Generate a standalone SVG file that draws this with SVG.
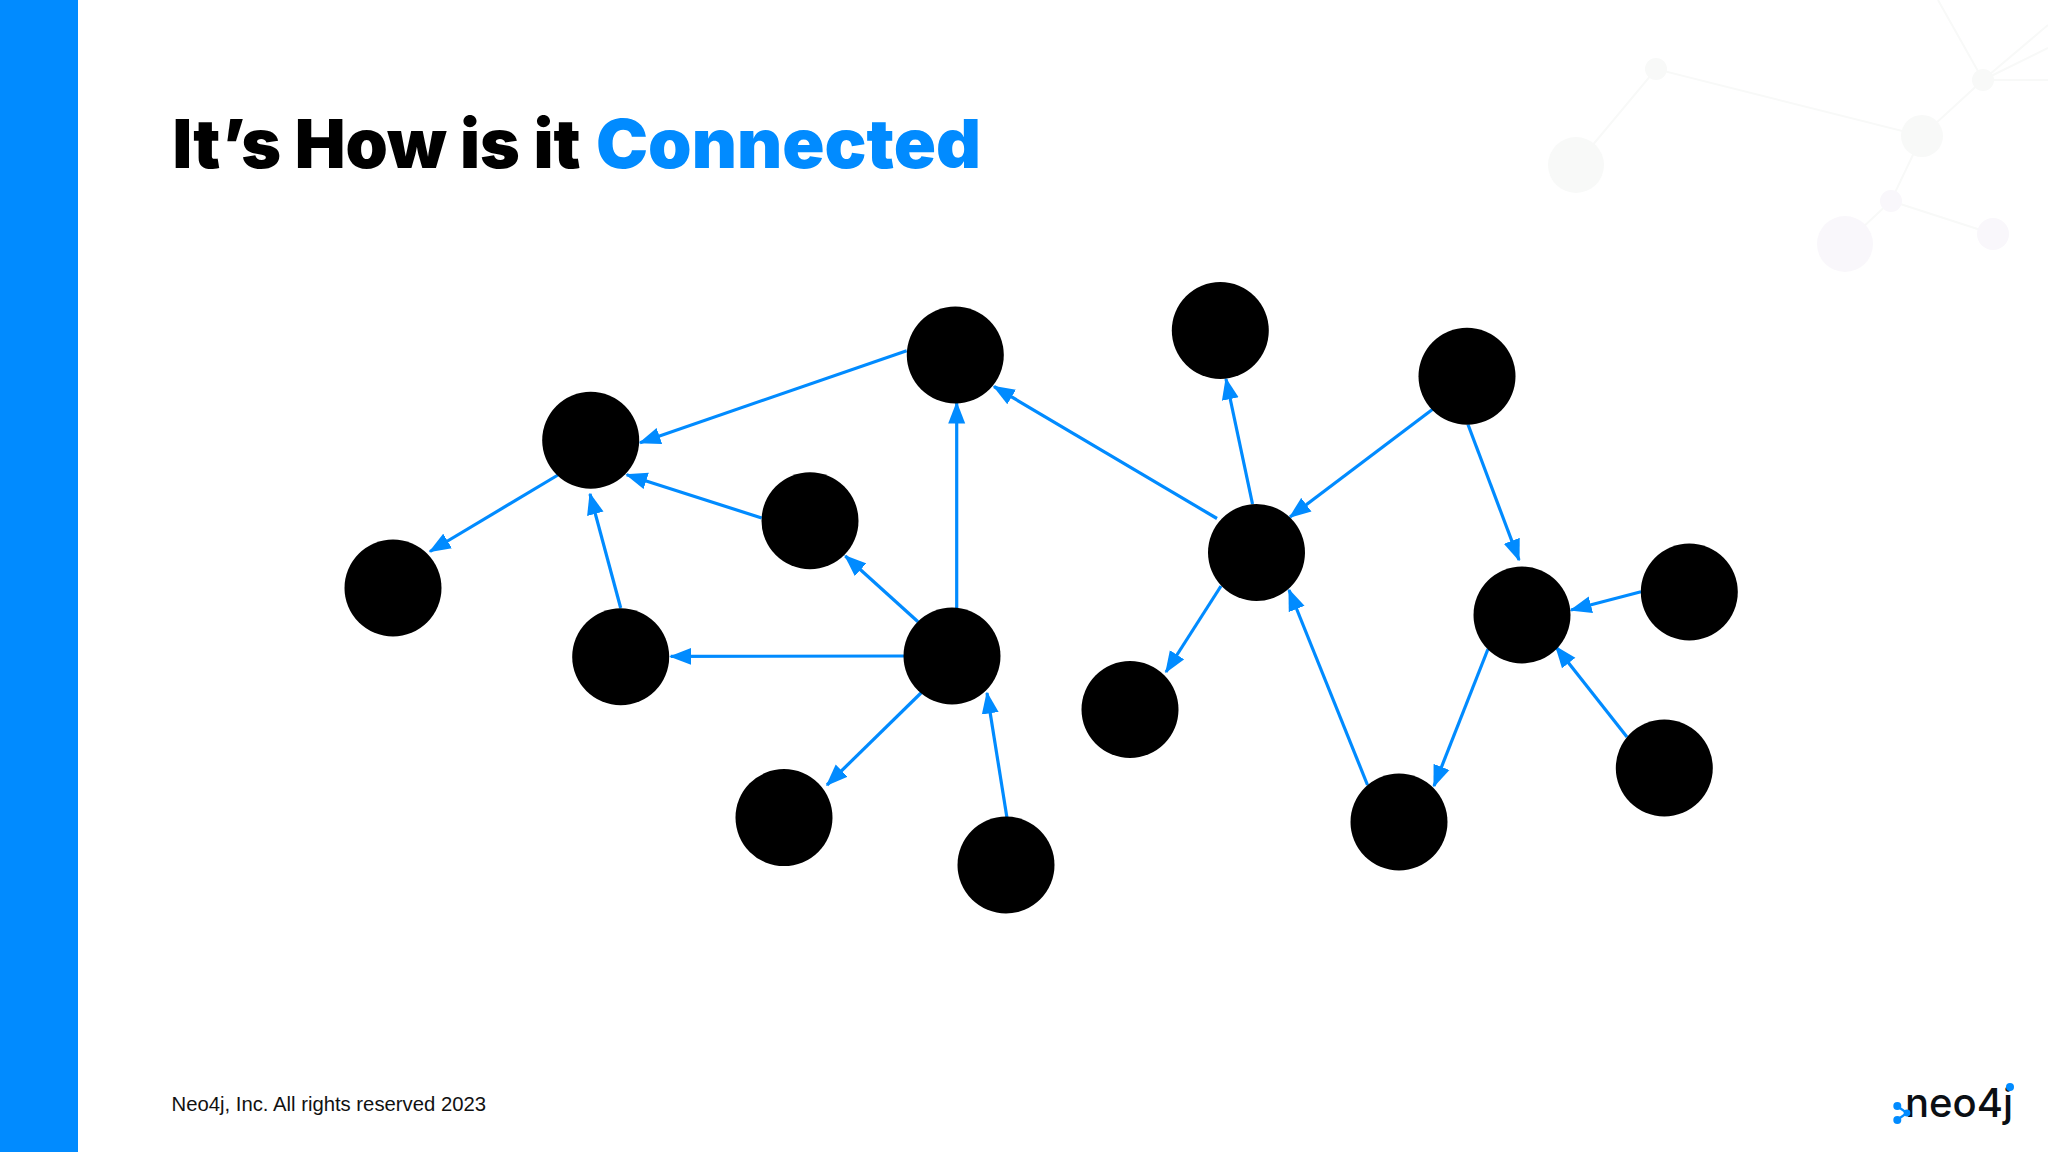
<svg xmlns="http://www.w3.org/2000/svg" width="2048" height="1152" viewBox="0 0 2048 1152">
<style>
.n{fill:#000}
.e{stroke:#018BFF;stroke-width:3.2;fill:none;marker-end:url(#a)}
.dl{stroke:#f8f9f8;stroke-width:2;fill:none}
.d1{fill:#f8f9f8}
.d2{fill:#f9f7fb}
.t{font-family:"Inter","Liberation Sans",sans-serif;font-weight:900;font-size:68px}
</style>
<defs>
<marker id="a" markerUnits="userSpaceOnUse" markerWidth="22" markerHeight="18" refX="20.5" refY="9" orient="auto"><path d="M0 0.5L22 9L0 17.5Z" fill="#018BFF"/></marker>
</defs>
<rect width="2048" height="1152" fill="#fff"/>
<g id="background-decoration">
<path class="dl" d="M1576 165L1656 69L1922 136L1983 80L1938 0M1983 80L2048 25M1983 80L2048 48M1983 80H2048M1922 136L1891 201L1845 244M1891 201L1993 234"/>
<circle class="d1" cx="1576" cy="165" r="28"/>
<circle class="d1" cx="1656" cy="69" r="11"/>
<circle class="d1" cx="1922" cy="136" r="21"/>
<circle class="d1" cx="1983" cy="80" r="11"/>
<circle class="d2" cx="1891" cy="201" r="11"/>
<circle class="d2" cx="1845" cy="244" r="28"/>
<circle class="d2" cx="1993" cy="234" r="16"/>
</g>
<rect id="sidebar" width="78" height="1152" fill="#018BFF"/>
<text id="title" class="t" y="168"><tspan x="172.5" textLength="408" lengthAdjust="spacingAndGlyphs">It’s How is it</tspan><tspan x="596" fill="#018BFF" textLength="385" lengthAdjust="spacingAndGlyphs">Connected</tspan></text>
<g id="connectors">
<line class="e" x1="906.7" y1="350.7" x2="640" y2="442.7"/>
<line class="e" x1="761.7" y1="518" x2="626.7" y2="474.7"/>
<line class="e" x1="620.7" y1="608" x2="590" y2="494"/>
<line class="e" x1="918" y1="621.7" x2="845.3" y2="556"/>
<line class="e" x1="956.7" y1="608" x2="956.7" y2="403"/>
<line class="e" x1="904" y1="656" x2="670.7" y2="656.4"/>
<line class="e" x1="558" y1="475" x2="430" y2="551.5"/>
<line class="e" x1="922" y1="692" x2="827" y2="785"/>
<line class="e" x1="1007" y1="818" x2="987" y2="693"/>
<line class="e" x1="1217" y1="518.5" x2="994" y2="386.5"/>
<line class="e" x1="1252.5" y1="504" x2="1226" y2="379"/>
<line class="e" x1="1433" y1="409" x2="1290" y2="517"/>
<line class="e" x1="1468" y1="424.5" x2="1519" y2="560"/>
<line class="e" x1="1221" y1="586" x2="1166" y2="672"/>
<line class="e" x1="1367.5" y1="785" x2="1289" y2="590"/>
<line class="e" x1="1488" y1="649" x2="1434" y2="786"/>
<line class="e" x1="1641" y1="591.7" x2="1571" y2="610"/>
<line class="e" x1="1627" y1="737" x2="1556" y2="647"/>
</g>
<g id="n1"><circle class="n" cx="955.3" cy="355" r="48.5"/></g>
<g id="n2"><circle class="n" cx="590.7" cy="440.3" r="48.5"/></g>
<g id="n3"><circle class="n" cx="810" cy="520.7" r="48.5"/></g>
<g id="n4"><circle class="n" cx="620.7" cy="656.7" r="48.5"/></g>
<g id="n5"><circle class="n" cx="952" cy="656" r="48.5"/></g>
<g id="n6"><circle class="n" cx="393" cy="588" r="48.5"/></g>
<g id="n7"><circle class="n" cx="784" cy="817.6" r="48.5"/></g>
<g id="n8"><circle class="n" cx="1006" cy="865" r="48.5"/></g>
<g id="n9"><circle class="n" cx="1130" cy="709.5" r="48.5"/></g>
<g id="n10"><circle class="n" cx="1220.3" cy="330.5" r="48.5"/></g>
<g id="n11"><circle class="n" cx="1467" cy="376.3" r="48.5"/></g>
<g id="n12"><circle class="n" cx="1256.5" cy="552.5" r="48.5"/></g>
<g id="n13"><circle class="n" cx="1522" cy="615" r="48.5"/></g>
<g id="n14"><circle class="n" cx="1689.3" cy="592" r="48.5"/></g>
<g id="n15"><circle class="n" cx="1664.3" cy="768" r="48.5"/></g>
<g id="n16"><circle class="n" cx="1399" cy="822" r="48.5"/></g>
<text id="footer" x="171.5" y="1111" font-family="'Liberation Sans',Arial,sans-serif" font-size="20.3" fill="#111">Neo4j, Inc. All rights reserved 2023</text>
<g id="logo">
<text x="1905" y="1117" font-family="Inter,'Liberation Sans',sans-serif" font-size="40" font-weight="500" fill="#0b0f14" textLength="108" lengthAdjust="spacingAndGlyphs">neo4j</text>
<circle cx="2010" cy="1087" r="4" fill="#018BFF"/>
<path d="M1897 1106L1907 1113L1897 1120" fill="none" stroke="#018BFF" stroke-width="2.2"/>
<circle cx="1897.3" cy="1106" r="4" fill="#018BFF"/>
<circle cx="1907" cy="1113" r="3.4" fill="#018BFF"/>
<circle cx="1897.3" cy="1120" r="4" fill="#018BFF"/>
</g>
</svg>
